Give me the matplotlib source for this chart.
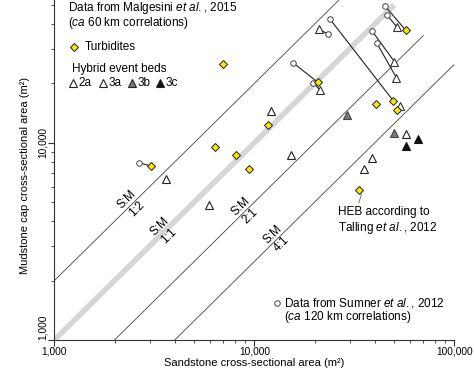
import matplotlib
matplotlib.use("Agg")
import matplotlib.pyplot as plt
from matplotlib.ticker import FixedLocator, FuncFormatter, NullFormatter

plt.rcParams['font.family'] = ['Liberation Sans', 'DejaVu Sans']
plt.rcParams['mathtext.fontset'] = 'custom'
plt.rcParams['mathtext.rm'] = 'Liberation Sans'
plt.rcParams['mathtext.it'] = 'Liberation Sans:italic'
plt.rcParams['font.size'] = 8.5

# Malgesini et al. 2015 - turbidites
turb_x = [3030, 6950, 6340, 8090, 9400, 11660, 20730, 40600, 49550, 51690, 57100, 33360]
turb_y = [7620, 25100, 9570, 8630, 7340, 12360, 20300, 15740, 16330, 14720, 37250, 5770]

# hybrid event beds
heb_2a_x = [3630, 5935, 12120, 15310, 35220, 38750, 57100]
heb_2a_y = [6530, 4810, 14450, 8670, 7340, 8340, 11140]
heb_3a_x = [21140, 21380, 50120, 51290, 51690, 53480]
heb_3a_y = [37580, 18490, 25820, 21430, 38650, 15310]
heb_3b_x = [29050, 49770]
heb_3b_y = [13770, 11220]
heb_3c_x = [65560, 57100]
heb_3c_y = [10470, 9610]

# Sumner et al. 2012 beds and the matching Malgesini bed
sumner_x = [2660, 15550, 19580, 23270, 23900, 38750, 41040, 45180, 45880]
sumner_y = [7930, 25540, 20220, 35700, 42380, 36990, 31900, 49230, 44700]
match_x = [3030, 20730, 21380, 21140, 49550, 50120, 51290, 57100, 51690]
match_y = [7620, 20300, 18490, 37580, 16330, 25820, 21430, 37250, 38650]

# S:M ratio lines
ratios = [0.5, 1, 2, 4]
ratio_xmin = [1000, 1000, 2000, 4000]
ratio_xmax = [30000, 50000, 70000, 100000]
ratio_labels = ['1:2', '1:1', '2:1', '4:1']
ratio_label_x = [2440, 3550, 9000, 13000]

fig = plt.figure(figsize=(4.74, 3.70), dpi=100)
ax = fig.add_axes([0.1146, 0.0811, 0.8439, 0.9189])
ax.set_xscale('log')
ax.set_yscale('log')
ax.set_xlim(1000, 100000)
ax.set_ylim(1000, 53000)

for r, x0, x1 in zip(ratios, ratio_xmin, ratio_xmax):
    if r == 1:
        ax.plot([x0, x1], [x0, x1], color='#d6d6d6', lw=4, solid_capstyle='butt', zorder=1)
    else:
        ax.plot([x0, x1], [x0 / r, x1 / r], color='#444444', lw=0.6, zorder=1)

for r, lab, lx in zip(ratios, ratio_labels, ratio_label_x):
    ax.text(lx, lx / r, 'S:M\n' + lab, rotation=44.7, rotation_mode='anchor',
            ha='center', va='center', linespacing=1.15, fontsize=8.5, zorder=2)

for sx, sy, mx, my in zip(sumner_x, sumner_y, match_x, match_y):
    ax.plot([sx, mx], [sy, my], color='#222222', lw=0.8, zorder=2)

ax.plot(sumner_x, sumner_y, 'o', ms=4, mfc='white', mec='#444444', mew=0.7, ls='none', zorder=3)
ax.plot(heb_2a_x, heb_2a_y, '^', ms=6, mfc='white', mec='#222222', mew=0.8, ls='none', zorder=4)
ax.plot(heb_3a_x, heb_3a_y, '^', ms=6, mfc='white', mec='#333333', mew=0.8, ls='none', zorder=4)
ax.plot(heb_3b_x, heb_3b_y, '^', ms=6, mfc='#7a7a7a', mec='#444444', mew=0.8, ls='none', zorder=4)
ax.plot(heb_3c_x, heb_3c_y, '^', ms=6, mfc='#111111', mec='#111111', mew=0.8, ls='none', zorder=4)
ax.plot(turb_x, turb_y, 'D', ms=4.5, mfc='#f5ea00', mec='#222222', mew=0.7, ls='none', zorder=5)

# HEB annotation
ax.annotate('HEB according to\nTalling $\\it{et\\ al.}$, 2012',
            xy=(turb_x[-1] * 1.03, turb_y[-1] * 0.95), xytext=(26200, 4030),
            ha='left', va='center', linespacing=1.2,
            arrowprops=dict(arrowstyle='-', color='#777777', lw=0.7,
                            relpos=(0.2, 1.0), shrinkA=0, shrinkB=0))

# legends drawn as text
tr = ax.transAxes
ax.text(0.035, 0.975, 'Data from Malgesini $\\it{et\\ al.}$, 2015', transform=tr, va='center')
ax.text(0.035, 0.931, '($\\it{ca}$ 60 km correlations)', transform=tr, va='center')
ax.plot([0.048], [0.861], 'D', transform=tr, ms=4.5, mfc='#f5ea00', mec='#222222', mew=0.7, clip_on=False)
ax.text(0.077, 0.861, 'Turbidites', transform=tr, va='center')
ax.text(0.0435, 0.797, 'Hybrid event beds', transform=tr, va='center')
leg_fc = ['white', 'white', '#7a7a7a', '#111111']
leg_lab = ['2a', '3a', '3b', '3c']
leg_mx = [0.0475, 0.121, 0.1935, 0.264]
for fc, lab, mx in zip(leg_fc, leg_lab, leg_mx):
    ax.plot([mx], [0.755], '^', transform=tr, ms=5.5, mfc=fc, mec='#222222', mew=0.8, clip_on=False)
    ax.text(mx + 0.014, 0.755, lab, transform=tr, va='center')

ax.plot([0.556], [0.108], 'o', transform=tr, ms=4, mfc='white', mec='#444444', mew=0.7, clip_on=False)
ax.text(0.575, 0.108, 'Data from Sumner $\\it{et\\ al.}$, 2012', transform=tr, va='center')
ax.text(0.575, 0.0685, '($\\it{ca}$ 120 km correlations)', transform=tr, va='center')

# axes styling
for s in ['top', 'right']:
    ax.spines[s].set_visible(False)
for s in ['left', 'bottom']:
    ax.spines[s].set_color('#333333')
    ax.spines[s].set_linewidth(0.8)

fmt = FuncFormatter(lambda v, p: f"{int(round(v)):,}")
minor = [k * 10 ** e for e in (3, 4) for k in range(2, 10)]
ax.xaxis.set_major_locator(FixedLocator([1000, 10000, 100000]))
ax.yaxis.set_major_locator(FixedLocator([1000, 10000]))
ax.xaxis.set_minor_locator(FixedLocator(minor))
ax.yaxis.set_minor_locator(FixedLocator(minor))
ax.xaxis.set_major_formatter(fmt)
ax.yaxis.set_major_formatter(fmt)
ax.xaxis.set_minor_formatter(NullFormatter())
ax.yaxis.set_minor_formatter(NullFormatter())
ax.tick_params(which='major', length=4, width=0.8, color='#333333', labelsize=7.3)
ax.tick_params(axis='x', which='major', pad=1)
ax.tick_params(axis='y', which='major', pad=0.5)
ax.tick_params(which='minor', length=2.5, width=0.6, color='#333333')
fig.canvas.draw()
ylbls = ax.get_yticklabels()
for lbl in ylbls:
    lbl.set_rotation(90)
    lbl.set_va('center')
ylbls[0].set_va('bottom')

ax.set_xlabel('Sandstone cross-sectional area (m²)', fontsize=8)
ax.set_ylabel('Mudstone cap cross-sectional area (m²)', fontsize=8)
ax.xaxis.set_label_coords(0.5, -0.067)
ax.xaxis.label.set_va('center')
ax.yaxis.set_label_coords(-0.073, 0.485)
ax.yaxis.label.set_va('center')

fig.savefig('out.png', dpi=100)
